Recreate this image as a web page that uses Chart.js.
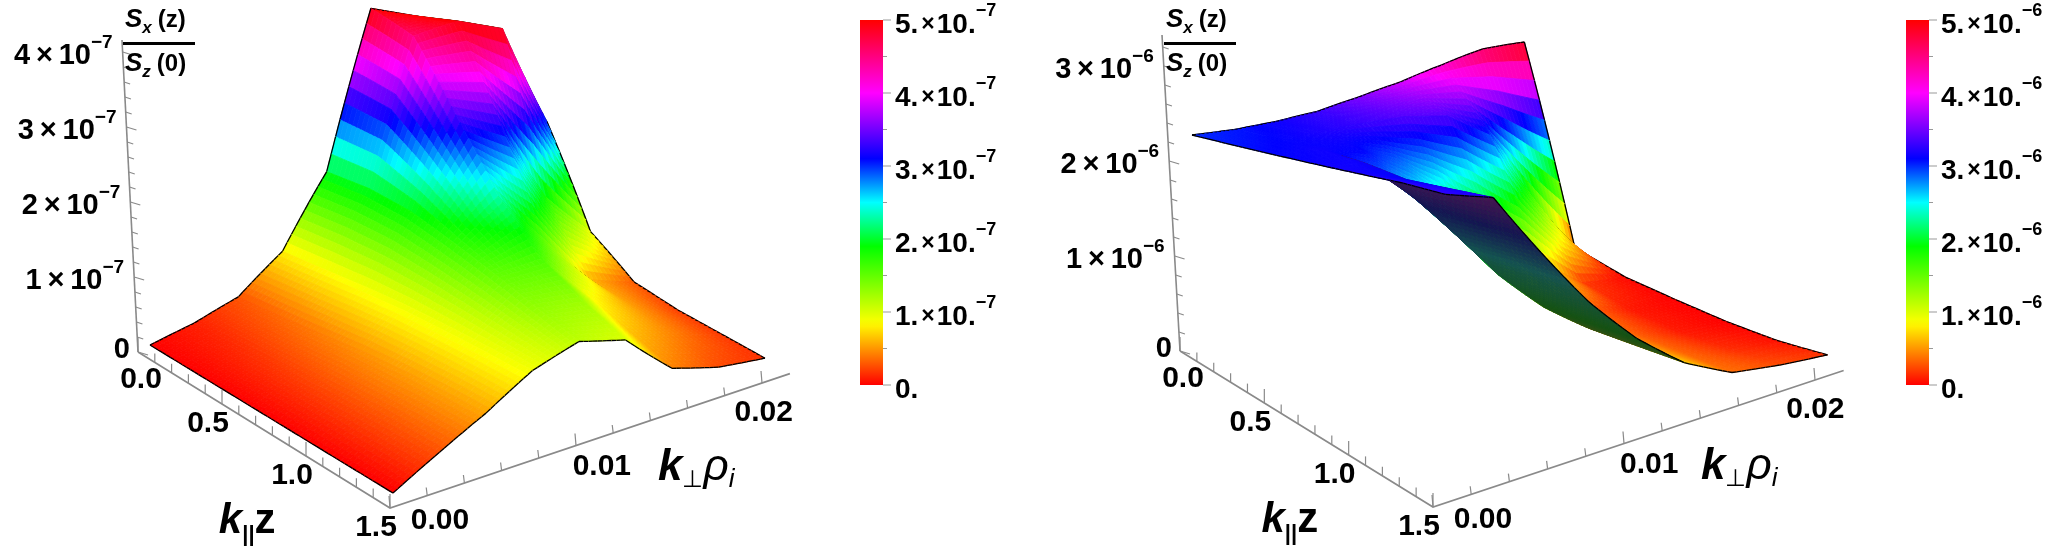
<!DOCTYPE html>
<html><head><meta charset="utf-8">
<script src="https://cdn.jsdelivr.net/npm/chart.js@4/dist/chart.umd.min.js"></script>
<style>html,body{margin:0;padding:0;background:#fff;}#wrap{width:2067px;height:547px;position:relative;}</style>
</head><body><div id="wrap"><canvas id="c"></canvas></div>
<script>
// ---- data ----
const kzVals = [0, 0.25, 0.5, 0.75, 1.0, 1.25, 1.5];
const kpVals = [0, 0.0025, 0.005, 0.0075, 0.01, 0.0125, 0.015, 0.0175, 0.02];
// S_x(z)/S_z(0), left panel, units of 1e-7 (rows: kz, cols: kperp)
const leftS = [
  [0, 0.10, 0.28, 0.80, 2.0, 5.0, 5.0, 5.0, 4.0],
  [0, 0.14, 0.35, 0.85, 2.0, 4.6, 5.0, 5.0, 3.0],
  [0, 0.19, 0.42, 0.90, 1.9, 3.4, 3.2, 1.8, 0.9],
  [0, 0.23, 0.49, 0.93, 1.7, 2.3, 1.5, 0.6, 0.3],
  [0, 0.26, 0.53, 0.93, 1.5, 1.6, 0.9, 0.52, 0.2],
  [0, 0.27, 0.55, 0.92, 1.3, 1.25, 0.65, 0.42, 0.18],
  [0, 0.27, 0.55, 0.90, 1.12, 1.0, 0.44, 0.25, 0.16]
];
// right panel, units of 1e-6
const rightS = [
  [3.0, 3.05, 3.15, 3.3, 3.55, 3.85, 4.25, 4.7, 5.0],
  [3.05, 3.1, 3.2, 3.3, 3.4, 3.4, 3.0, 1.6, 0.2],
  [3.1, 3.15, 3.1, 2.8, 2.3, 1.6, 0.9, 0.2, 0.02],
  [3.15, 3.15, 2.7, 2.1, 1.4, 0.8, 0.35, 0.08, 0.0],
  [3.2, 3.1, 2.4, 1.7, 1.1, 0.6, 0.3, 0.08, 0.0],
  [3.25, 3.15, 2.45, 1.75, 1.15, 0.65, 0.33, 0.15, 0.05],
  [3.27, 3.2, 2.5, 1.8, 1.2, 0.7, 0.36, 0.25, 0.17]
];
const kzTicks = [0, 0.5, 1.0, 1.5];
const kzTickLabels = ['0.0', '0.5', '1.0', '1.5'];
const kpTicks = [0, 0.01, 0.02];
const kpTickLabels = ['0.00', '0.01', '0.02'];
const leftZTicks = [0, 1, 2, 3, 4];
const rightZTicks = [0, 1, 2, 3];
const cbTicks = [0, 1, 2, 3, 4, 5];
const leftExp = '\u22127', rightExp = '\u22126';

// ---- view settings ----
const panels = [
  {S: leftS, exp: leftExp, zTicks: leftZTicks,
   O: [150, 345], KZ: [162, 98.7], KP: [186, -62.5], R: 0.05,
   AX0: [138, 352], AX1: [390, 508], KPax: [186, -62.5],
   zpx: 75, ztick: 75, zTop: 40, zSlant: 16, P: 0.48, Q: 0.3, cbX: 860, titleX: 125},
  {S: rightS, exp: rightExp, zTicks: rightZTicks,
   O: [1192, 345], KZ: [169, 98], KP: [191, -63.5], R: 0.13,
   AX0: [1180, 351], AX1: [1433, 507], KPax: [191, -63.5],
   zpx: 70, ztick: 95, zTop: 35, zSlant: 18, P: 0.45, Q: 0.3, cbX: 1906, titleX: 1166}
];
const hueStops = [[0, 0], [0.85, 60], [1.9, 120], [2.5, 180], [3.1, 240], [4, 300], [5, 360]];
function hueOf(v) {
  v = Math.max(0, Math.min(5, v));
  for (let i = 1; i < hueStops.length; i++) {
    if (v <= hueStops[i][0]) {
      const a = hueStops[i - 1], b = hueStops[i];
      return a[1] + (b[1] - a[1]) * (v - a[0]) / (b[0] - a[0]);
    }
  }
  return 360;
}
const FONT = '"Liberation Sans", Arial, sans-serif';

function runs(ctx, x, y, list, align) {
  let w = 0;
  list.forEach(r => { ctx.font = r.f; w += ctx.measureText(r.t).width + (r.gap || 0); });
  let cx = align === 'right' ? x - w : align === 'center' ? x - w / 2 : x;
  list.forEach(r => {
    ctx.font = r.f; ctx.fillText(r.t, cx, y + (r.dy || 0));
    cx += ctx.measureText(r.t).width + (r.gap || 0);
  });
}

const surfacePlugin = {
  id: 'surface3d',
  afterDatasetsDraw(chart) {
    const ctx = chart.ctx, sx = chart.scales.x, sy = chart.scales.y;
    const X = v => sx.getPixelForValue(v), Y = v => sy.getPixelForValue(v);
    ctx.save();
    ctx.textBaseline = 'middle';
    panels.forEach(p => {
      const kzMax = kzVals[kzVals.length - 1], kpMax = kpVals[kpVals.length - 1];
      const proj = (kz, kp, v) => {
        const f = 1 - p.P * kp / kpMax + p.Q * kz / kzMax;
        const ks = (1 - p.R * (1 - kz / kzMax)) * kp / 0.01;
        return [X(p.O[0] + kz * p.KZ[0] + ks * p.KP[0]),
                Y(p.O[1] + kz * p.KZ[1] + ks * p.KP[1] - Math.min(v, 5) * p.zpx * f)];
      };
      const axKz = kz => [X(p.AX0[0] + (p.AX1[0] - p.AX0[0]) * kz / kzMax), Y(p.AX0[1] + (p.AX1[1] - p.AX0[1]) * kz / kzMax)];
      const axKp = kp => [X(p.AX1[0] + p.KPax[0] * kp / 0.01), Y(p.AX1[1] + p.KPax[1] * kp / 0.01)];
      // ---- axes ----
      ctx.strokeStyle = '#8a8a8a'; ctx.lineWidth = 1.6; ctx.fillStyle = '#000';
      const o = axKz(0), c = axKz(kzMax), e = axKp(0.0215);
      ctx.beginPath(); ctx.moveTo(o[0], o[1]); ctx.lineTo(c[0], c[1]); ctx.lineTo(e[0], e[1]); ctx.stroke();
      const zt = [X(p.AX0[0] - p.zSlant), Y(p.zTop)];
      ctx.beginPath(); ctx.moveTo(o[0], o[1]); ctx.lineTo(zt[0], zt[1]); ctx.stroke();
      ctx.lineWidth = 1.2;
      const zAt = v => { const t = (v * p.ztick) / (o[1] - zt[1]); return [o[0] + (zt[0] - o[0]) * t, o[1] + (zt[1] - o[1]) * t]; };
      const zmaxT = (o[1] - zt[1]) / p.ztick;
      for (let i = 0; i * 0.2 <= zmaxT + 1e-9; i++) {
        const q = zAt(i * 0.2), major = i % 5 === 0;
        ctx.beginPath(); ctx.moveTo(q[0], q[1]); ctx.lineTo(q[0] + (major ? 10 : 6), q[1] + (major ? 3 : 2)); ctx.stroke();
      }
      for (let i = 0; i <= 15; i++) {
        const q = axKz(i * 0.1), major = i % 5 === 0;
        ctx.beginPath(); ctx.moveTo(q[0], q[1]); ctx.lineTo(q[0], q[1] - (major ? 14 : 9)); ctx.stroke();
      }
      for (let i = 0; i <= 10; i++) {
        const q = axKp(i * 0.002), major = i % 5 === 0;
        ctx.beginPath(); ctx.moveTo(q[0], q[1]); ctx.lineTo(q[0] - 1, q[1] - (major ? 12 : 8)); ctx.stroke();
      }
      // ---- surface ----
      const S = p.S, N = 10, quads = [];
      const val = (u, w) => {
        const i = Math.min(Math.floor(u), kzVals.length - 2), j = Math.min(Math.floor(w), kpVals.length - 2);
        const a = u - i, b = w - j;
        return S[i][j] * (1 - a) * (1 - b) + S[i + 1][j] * a * (1 - b) + S[i][j + 1] * (1 - a) * b + S[i + 1][j + 1] * a * b;
      };
      const kzAt = u => u * (kzVals[1] - kzVals[0]), kpAt = w => w * (kpVals[1] - kpVals[0]);
      const U = (kzVals.length - 1) * N, W = (kpVals.length - 1) * N;
      for (let a = 0; a < U; a++) for (let b = 0; b < W; b++) {
        const pts = [[a, b], [a + 1, b], [a + 1, b + 1], [a, b + 1]].map(([ia, ib]) => {
          const u = ia / N, w = ib / N; return {u, w, v: val(u, w)};
        });
        const vm = pts.reduce((s, q) => s + Math.min(q.v, 5), 0) / 4;
        const depth = (1 - a / U) + b / W;
        quads.push({a, b, pts, vm, depth});
      }
      quads.sort((m, n) => n.depth - m.depth);
      quads.forEach(q => {
        const sp = q.pts.map(t => proj(kzAt(t.u), kpAt(t.w), t.v));
        let area = 0;
        for (let i = 0; i < 4; i++) { const A = sp[i], B = sp[(i + 1) % 4]; area += A[0] * B[1] - B[0] * A[1]; }
        const h = hueOf(q.vm);
        const col = area < 0 ? `hsl(${h},100%,50%)` : `hsl(${(h + 40) % 360},60%,20%)`;
        ctx.fillStyle = col; ctx.strokeStyle = col; ctx.lineWidth = 0.8;
        ctx.beginPath(); sp.forEach((t, i) => i ? ctx.lineTo(t[0], t[1]) : ctx.moveTo(t[0], t[1])); ctx.closePath();
        ctx.fill(); ctx.stroke();
        ctx.strokeStyle = '#000'; ctx.lineWidth = 1.3;
        const edge = (i, j) => { ctx.beginPath(); ctx.moveTo(sp[i][0], sp[i][1]); ctx.lineTo(sp[j][0], sp[j][1]); ctx.stroke(); };
        if (q.a === 0) edge(3, 0);
        if (q.a === U - 1) edge(1, 2);
        if (q.b === 0) edge(0, 1);
        if (q.b === W - 1) edge(2, 3);
      });
      // ---- labels ----
      ctx.fillStyle = '#000';
      const bf = s => `bold ${s}px ${FONT}`;
      p.zTicks.forEach(v => {
        const q = zAt(v);
        if (v === 0) runs(ctx, q[0] - 8, q[1] - 2, [{t: '0', f: bf(29)}], 'right');
        else runs(ctx, q[0] - 10, q[1] + 4, [{t: v + '\u2009\u00d7\u200910', f: bf(29)}, {t: p.exp, f: bf(19), dy: -13}], 'right');
      });
      kzTicks.forEach((k, i) => {
        const q = axKz(k);
        runs(ctx, q[0] + (i === 0 ? 3 : -14), q[1] + (i === 0 ? 28 : 20), [{t: kzTickLabels[i], f: bf(30)}], 'center');
      });
      kpTicks.forEach((k, i) => {
        runs(ctx, X(p.AX1[0] + 50 + p.KPax[0] * 0.87 * k / 0.01), Y(p.AX1[1] + 13 + p.KPax[1] * 0.87 * k / 0.01),
          [{t: kpTickLabels[i], f: bf(30)}], 'center');
      });
      const kzT = axKz(0.9);
      runs(ctx, kzT[0] - 42, kzT[1] + 76, [{t: 'k', f: `italic bold 42px ${FONT}`}, {t: '||', f: bf(22), dy: 13}, {t: 'z', f: bf(42)}], 'center');
      runs(ctx, X(p.AX1[0] + 268), Y(p.AX1[1] - 40), [{t: 'k', f: `italic bold 44px ${FONT}`}, {t: '\u22a5', f: `24px ${FONT}`, dy: 12}, {t: '\u03c1', f: `italic 44px ${FONT}`}, {t: 'i', f: `italic 26px ${FONT}`, dy: 12}], 'left');
      // z title fraction
      const tx = p.titleX;
      runs(ctx, tx, 20, [{t: 'S', f: `italic bold 26px ${FONT}`}, {t: 'x', f: `italic bold 17px ${FONT}`, dy: 8, gap: 6}, {t: '(z)', f: bf(24)}], 'left');
      ctx.fillRect(X(tx - 2), Y(42), 72, 3);
      runs(ctx, tx, 64, [{t: 'S', f: `italic bold 26px ${FONT}`}, {t: 'z', f: `italic bold 17px ${FONT}`, dy: 8, gap: 6}, {t: '(0)', f: bf(24)}], 'left');
      // ---- colorbar ----
      const cbTop = 20, cbBot = 385, cbW = 23;
      const g = ctx.createLinearGradient(0, Y(cbBot), 0, Y(cbTop));
      for (let i = 0; i <= 50; i++) g.addColorStop(i / 50, `hsl(${hueOf(i / 10)},100%,50%)`);
      ctx.fillStyle = g; ctx.fillRect(X(p.cbX), Y(cbTop), cbW, cbBot - cbTop);
      ctx.strokeStyle = '#999'; ctx.lineWidth = 1;
      for (let i = 0; i <= 10; i++) {
        const yy = Y(cbBot - (cbBot - cbTop) * i / 10);
        ctx.beginPath(); ctx.moveTo(X(p.cbX + cbW), yy); ctx.lineTo(X(p.cbX + cbW + (i % 2 === 0 ? 8 : 4)), yy); ctx.stroke();
      }
      ctx.fillStyle = '#000';
      cbTicks.forEach(v => {
        const yy = cbBot - (cbBot - cbTop) * v / 5;
        if (v === 0) runs(ctx, X(p.cbX + 35), Y(yy + 5), [{t: '0.', f: bf(28)}], 'left');
        else runs(ctx, X(p.cbX + 35), Y(yy + 5), [{t: v + '.', f: bf(28), gap: 3}, {t: '\u00d7', f: bf(23), gap: 2}, {t: '10.', f: bf(28)}, {t: p.exp, f: bf(18), dy: -14}], 'left');
      });
    });
    ctx.restore();
  }
};

new Chart(document.getElementById('c'), {
  type: 'scatter',
  data: {datasets: [{data: [], pointRadius: 0}]},
  options: {
    responsive: true, maintainAspectRatio: false, animation: false,
    devicePixelRatio: 1,
    layout: {padding: 0},
    plugins: {legend: {display: false}, tooltip: {enabled: false}},
    scales: {
      x: {type: 'linear', min: 0, max: 2067, display: false},
      y: {type: 'linear', min: 0, max: 547, reverse: true, display: false}
    }
  },
  plugins: [surfacePlugin]
});
</script></body></html>
